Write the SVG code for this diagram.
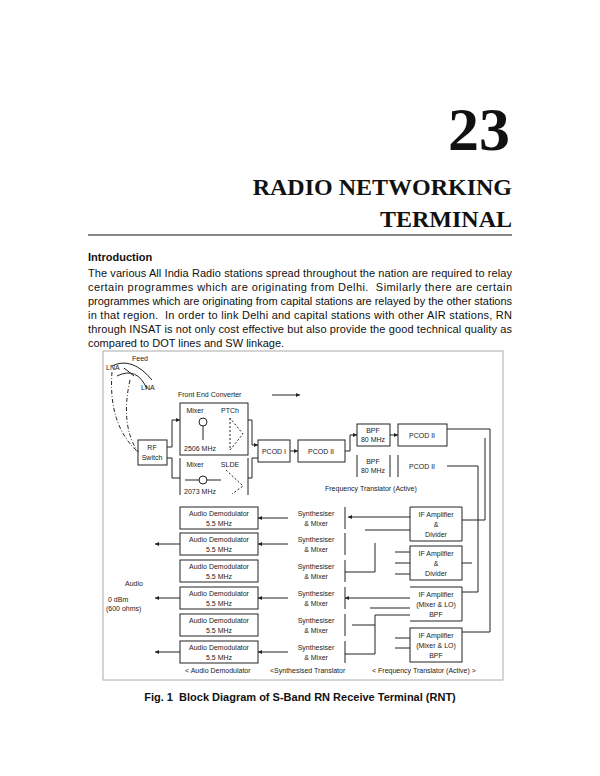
<svg xmlns="http://www.w3.org/2000/svg" width="600" height="776" viewBox="0 0 600 776">
<style>
.t{font-family:"Liberation Sans",Arial,sans-serif;font-size:11px;fill:#111}
.s{font-family:"Liberation Sans",Arial,sans-serif;font-size:7px;fill:#222;text-anchor:middle}
.sl{font-family:"Liberation Sans",Arial,sans-serif;font-size:7px;fill:#222}
.b{fill:#fff;stroke:#222;stroke-width:1}
.c{fill:none;stroke:#222;stroke-width:1}
</style>
<defs><marker id="a" viewBox="0 0 6 6" refX="6" refY="3" markerWidth="4" markerHeight="4" orient="auto"><path d="M0,0L6,3L0,6z" fill="#222"/></marker></defs>
<rect width="600" height="776" fill="#fff"/>
<text x="510" y="150" text-anchor="end" font-family="Liberation Serif,serif" font-weight="bold" font-size="62" fill="#111">23</text>
<text x="512" y="195" text-anchor="end" font-family="Liberation Serif,serif" font-weight="bold" font-size="24" fill="#111">RADIO NETWORKING</text>
<text x="512" y="227" text-anchor="end" font-family="Liberation Serif,serif" font-weight="bold" font-size="24" fill="#111">TERMINAL</text>
<line x1="88" y1="235" x2="512" y2="235" stroke="#111" stroke-width="1.2"/>
<text x="88" y="261" class="t" font-weight="bold" font-size="12">Introduction</text>
<text x="88" y="277" class="t" textLength="424" lengthAdjust="spacing">The various All India Radio stations spread throughout the nation are required to relay</text>
<text x="88" y="291" class="t" textLength="424" lengthAdjust="spacing" xml:space="preserve">certain programmes which are originating from Delhi.  Similarly there are certain</text>
<text x="88" y="305" class="t" textLength="424" lengthAdjust="spacing">programmes which are originating from capital stations are relayed by the other stations</text>
<text x="88" y="319" class="t" textLength="424" lengthAdjust="spacing" xml:space="preserve">in that region.  In order to link Delhi and capital stations with other AIR stations, RN</text>
<text x="88" y="333" class="t" textLength="424" lengthAdjust="spacing">through INSAT is not only cost effective but also provide the good technical quality as</text>
<text x="88" y="347" class="t">compared to DOT lines and SW linkage.</text>
<rect x="103" y="351" width="400" height="329" fill="none" stroke="#aaa" stroke-width="1"/>
<g id="antenna">
<path d="M112,366 Q132,356 152,380" class="c"/><path d="M117,376 Q137,366 147,389" class="c"/>
<line x1="124" y1="368" x2="134" y2="376" class="c"/>
<text x="132" y="361" class="sl">Feed</text><text x="106" y="370" class="sl">LNA</text><text x="141" y="390" class="sl">LNA</text>
</g>
<g id="rfswitch"><rect x="138" y="440" width="29" height="25" class="b"/><text x="152" y="450" class="s">RF</text><text x="152" y="460" class="s">Switch</text></g>
<g id="conv1"><rect x="180" y="403" width="68" height="52" class="b"/><text x="195" y="413" class="s">Mixer</text><text x="230" y="413" class="s">PTCh</text><circle cx="203" cy="422" r="4" class="c"/><line x1="203" y1="426" x2="203" y2="440" class="c"/><text x="200" y="451" class="s">2506 MHz</text><path d="M230,418 L230,450 L243,434z" class="c" stroke-dasharray="2,2"/></g>
<g id="conv2"><path d="M180,458 V495 M248,458 V495" class="c"/><text x="195" y="467" class="s">Mixer</text><text x="230" y="467" class="s">SLDE</text><line x1="185" y1="480" x2="221" y2="480" class="c"/><circle cx="203" cy="480" r="4" class="b"/><path d="M226,470 L243,486 L232,494" class="c" stroke-dasharray="2,2"/><text x="200" y="494" class="s">2073 MHz</text></g>
<text x="178" y="397" class="sl">Front End Converter</text>
<g id="pcod1"><rect x="258" y="440" width="32" height="22" class="b"/><text x="274" y="454" class="s">PCOD I</text></g>
<g id="pcod2"><rect x="298" y="440" width="47" height="22" class="b"/><text x="321" y="454" class="s">PCOD II</text></g>
<g id="bpf1"><rect x="357" y="424" width="33" height="22" class="b"/><text x="373" y="433" class="s">BPF</text><text x="373" y="442" class="s">80 MHz</text></g>
<g id="bpf2"><path d="M357,455V477M390,455V477" class="c"/><text x="373" y="464" class="s">BPF</text><text x="373" y="473" class="s">80 MHz</text></g>
<g id="pcodii1"><rect x="398" y="424" width="49" height="22" class="b"/><text x="422" y="438" class="s">PCOD II</text></g>
<g id="pcodii2"><path d="M398,455V477" class="c"/><text x="422" y="469" class="s">PCOD II</text></g>
<text x="325" y="491" class="sl">Frequency Translator (Active)</text>
<g id="demods">
<rect x="180" y="507" width="78" height="22" class="b"/><text x="219" y="516" class="s">Audio Demodulator</text><text x="219" y="526" class="s">5.5 MHz</text>
<rect x="180" y="533" width="78" height="22" class="b"/><text x="219" y="542" class="s">Audio Demodulator</text><text x="219" y="552" class="s">5.5 MHz</text>
<rect x="180" y="560" width="78" height="22" class="b"/><text x="219" y="569" class="s">Audio Demodulator</text><text x="219" y="579" class="s">5.5 MHz</text>
<rect x="180" y="587" width="78" height="22" class="b"/><text x="219" y="596" class="s">Audio Demodulator</text><text x="219" y="606" class="s">5.5 MHz</text>
<rect x="180" y="614" width="78" height="22" class="b"/><text x="219" y="623" class="s">Audio Demodulator</text><text x="219" y="633" class="s">5.5 MHz</text>
<rect x="180" y="641" width="78" height="22" class="b"/><text x="219" y="650" class="s">Audio Demodulator</text><text x="219" y="660" class="s">5.5 MHz</text>
</g>
<g id="synths">
<path d="M345,507V529M345,533V555M345,560V582M345,587V609M345,614V636M345,641V663" class="c"/>
<text x="316" y="516" class="s">Synthesiser</text><text x="316" y="526" class="s">&amp; Mixer</text>
<text x="316" y="542" class="s">Synthesiser</text><text x="316" y="552" class="s">&amp; Mixer</text>
<text x="316" y="569" class="s">Synthesiser</text><text x="316" y="579" class="s">&amp; Mixer</text>
<text x="316" y="596" class="s">Synthesiser</text><text x="316" y="606" class="s">&amp; Mixer</text>
<text x="316" y="623" class="s">Synthesiser</text><text x="316" y="633" class="s">&amp; Mixer</text>
<text x="316" y="650" class="s">Synthesiser</text><text x="316" y="660" class="s">&amp; Mixer</text>
</g>
<g id="amps">
<path d="M410,507H462V541H410M410,507V541" class="c"/><text x="436" y="517" class="s">IF Amplifier</text><text x="436" y="527" class="s">&amp;</text><text x="436" y="537" class="s">Divider</text>
<rect x="410" y="546" width="52" height="34" class="b"/><text x="436" y="556" class="s">IF Amplifier</text><text x="436" y="566" class="s">&amp;</text><text x="436" y="576" class="s">Divider</text>
<path d="M410,587H462V621H410" class="c"/><text x="436" y="597" class="s">IF Amplifier</text><text x="436" y="607" class="s">(Mixer &amp; LO)</text><text x="436" y="617" class="s">BPF</text>
<rect x="410" y="628" width="52" height="34" class="b"/><text x="436" y="638" class="s">IF Amplifier</text><text x="436" y="648" class="s">(Mixer &amp; LO)</text><text x="436" y="658" class="s">BPF</text>
</g>
<text x="125" y="586" class="sl">Audio</text><text x="108" y="602" class="sl">0 dBm</text><text x="106" y="611" class="sl">(600 ohms)</text>
<text x="185" y="673" class="sl">&lt; Audio Demodulator</text>
<text x="270" y="673" class="sl">&lt;Synthesised Translator</text>
<text x="372" y="673" class="sl">&lt; Frequency Translator (Active) &gt;</text>
<g id="connectors" class="c" stroke="#222" fill="none">
<path d="M112,372 Q108,425 138,452" stroke-dasharray="4,2,1,2"/>
<path d="M130,380 Q120,425 138,452" stroke-dasharray="4,2,1,2"/>
<line x1="272" y1="395" x2="300" y2="395" marker-end="url(#a)"/>
<path d="M167,447H172V420H180" marker-end="url(#a)"/>
<path d="M167,458H172V478H180"/>
<path d="M248,420H252V445H258" marker-end="url(#a)"/>
<path d="M248,478H252V458H258"/>
<line x1="290" y1="451" x2="298" y2="451" marker-end="url(#a)"/>
<path d="M345,451H350V435H357" marker-end="url(#a)"/>
<line x1="390" y1="435" x2="398" y2="435" marker-end="url(#a)"/>
<path d="M447,429H490V632H462"/>
<path d="M447,466H478V592H462"/>
<path d="M485,438V520H462"/>
<line x1="462" y1="563" x2="472" y2="563"/>
<path d="M410,517H348" marker-end="url(#a)"/>
<line x1="410" y1="530" x2="365" y2="530"/>
<path d="M375,543V572H345"/>
<line x1="410" y1="598" x2="345" y2="598" marker-end="url(#a)"/>
<line x1="410" y1="608" x2="370" y2="608"/>
<path d="M410,615H375V654H345"/>
<line x1="352" y1="625" x2="375" y2="625"/>
<path d="M410,552H395M410,563H395M410,574H395"/>
<path d="M410,638H395M410,648H395"/>
<line x1="288" y1="518" x2="258" y2="518" marker-end="url(#a)"/>
<line x1="288" y1="544" x2="258" y2="544" marker-end="url(#a)"/>
<line x1="288" y1="598" x2="258" y2="598" marker-end="url(#a)"/>
<line x1="288" y1="652" x2="258" y2="652" marker-end="url(#a)"/>
<line x1="180" y1="544" x2="155" y2="544" marker-end="url(#a)"/>
<line x1="180" y1="598" x2="155" y2="598" marker-end="url(#a)"/>
<line x1="180" y1="652" x2="155" y2="652" marker-end="url(#a)"/>
</g>
<text x="300" y="701" text-anchor="middle" class="t" font-weight="bold" font-size="10.5" xml:space="preserve">Fig. 1  Block Diagram of S-Band RN Receive Terminal (RNT)</text>
</svg>
